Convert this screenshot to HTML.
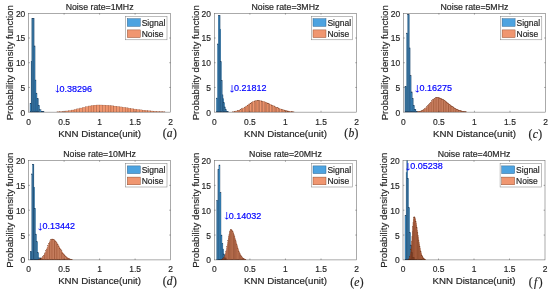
<!DOCTYPE html><html><head><meta charset="utf-8"><title>KNN distance histograms</title>
<style>html,body{margin:0;padding:0;background:#fff}svg{display:block;filter:blur(0.3px)}text{font-family:"Liberation Sans", sans-serif;fill:#262626;stroke:#262626;stroke-width:0.18px}</style></head><body>
<svg width="550" height="292" viewBox="0 0 550 292">
<rect width="550" height="292" fill="#fff"/>
<clipPath id="clip0"><rect x="28.60" y="13.30" width="142.00" height="98.85"/></clipPath>
<g clip-path="url(#clip0)">
<g fill="#007cd2" fill-opacity="0.7" stroke="#143250" stroke-width="0.34">
<rect x="30.00" y="103.25" width="1.10" height="8.90"/>
<rect x="31.10" y="61.24" width="0.75" height="50.91"/>
<rect x="31.85" y="18.24" width="0.75" height="93.91"/>
<rect x="32.60" y="18.24" width="0.75" height="93.91"/>
<rect x="33.35" y="18.24" width="0.75" height="93.91"/>
<rect x="34.10" y="45.92" width="0.97" height="66.23"/>
<rect x="35.07" y="80.02" width="0.93" height="32.13"/>
<rect x="36.00" y="93.12" width="1.00" height="19.03"/>
<rect x="37.00" y="98.81" width="0.70" height="13.34"/>
<rect x="37.70" y="98.81" width="0.70" height="13.34"/>
<rect x="38.40" y="105.23" width="1.30" height="6.92"/>
<rect x="39.70" y="109.68" width="1.30" height="2.47"/>
<rect x="41.00" y="111.41" width="1.00" height="0.74"/>
<rect x="42.00" y="111.41" width="1.00" height="0.74"/>
<rect x="43.00" y="111.41" width="1.00" height="0.74"/>
</g>
<g fill="#e96930" fill-opacity="0.7" stroke="#5a2008" stroke-opacity="0.65" stroke-width="0.28">
<rect x="57.00" y="111.75" width="2.84" height="0.40"/>
<rect x="59.84" y="111.56" width="2.84" height="0.59"/>
<rect x="62.68" y="111.30" width="2.84" height="0.85"/>
<rect x="65.52" y="110.97" width="2.84" height="1.18"/>
<rect x="68.36" y="110.55" width="2.84" height="1.60"/>
<rect x="71.20" y="110.03" width="2.84" height="2.12"/>
<rect x="74.04" y="109.43" width="2.84" height="2.72"/>
<rect x="76.88" y="108.76" width="2.84" height="3.39"/>
<rect x="79.72" y="108.04" width="2.84" height="4.11"/>
<rect x="82.56" y="107.31" width="2.84" height="4.84"/>
<rect x="85.40" y="106.61" width="2.84" height="5.54"/>
<rect x="88.24" y="105.98" width="2.84" height="6.17"/>
<rect x="91.08" y="105.48" width="2.84" height="6.67"/>
<rect x="93.92" y="105.14" width="2.84" height="7.01"/>
<rect x="96.76" y="104.99" width="2.84" height="7.16"/>
<rect x="99.60" y="105.00" width="2.84" height="7.15"/>
<rect x="102.44" y="105.10" width="2.84" height="7.05"/>
<rect x="105.28" y="105.26" width="2.84" height="6.89"/>
<rect x="108.12" y="105.49" width="2.84" height="6.66"/>
<rect x="110.96" y="105.79" width="2.84" height="6.36"/>
<rect x="113.80" y="106.13" width="2.84" height="6.02"/>
<rect x="116.64" y="106.51" width="2.84" height="5.64"/>
<rect x="119.48" y="106.92" width="2.84" height="5.23"/>
<rect x="122.32" y="107.36" width="2.84" height="4.79"/>
<rect x="125.16" y="107.80" width="2.84" height="4.35"/>
<rect x="128.00" y="108.25" width="2.84" height="3.90"/>
<rect x="130.84" y="108.68" width="2.84" height="3.47"/>
<rect x="133.68" y="109.10" width="2.84" height="3.05"/>
<rect x="136.52" y="109.50" width="2.84" height="2.65"/>
<rect x="139.36" y="109.87" width="2.84" height="2.28"/>
<rect x="142.20" y="110.21" width="2.84" height="1.94"/>
<rect x="145.04" y="110.51" width="2.84" height="1.64"/>
<rect x="147.88" y="110.78" width="2.84" height="1.37"/>
<rect x="150.72" y="111.02" width="2.84" height="1.13"/>
<rect x="153.56" y="111.23" width="2.84" height="0.92"/>
<rect x="156.40" y="111.41" width="2.84" height="0.74"/>
<rect x="159.24" y="111.55" width="2.84" height="0.60"/>
<rect x="162.08" y="111.68" width="2.84" height="0.47"/>
</g>
</g>
<g stroke="#262626" stroke-opacity="0.7" stroke-width="0.55" fill="none">
<rect x="28.60" y="13.30" width="142.00" height="98.85"/>
<path d="M64.10 112.15v-1.40M64.10 13.30v1.40M99.60 112.15v-1.40M99.60 13.30v1.40M135.10 112.15v-1.40M135.10 13.30v1.40M28.60 87.44h1.40M170.60 87.44h-1.40M28.60 62.72h1.40M170.60 62.72h-1.40M28.60 38.01h1.40M170.60 38.01h-1.40"/>
</g>
<g font-size="9.1">
<text transform="translate(28.60 124.50) scale(0.93 1)" text-anchor="middle">0</text>
<text transform="translate(64.10 124.50) scale(0.93 1)" text-anchor="middle">0.5</text>
<text transform="translate(99.60 124.50) scale(0.93 1)" text-anchor="middle">1</text>
<text transform="translate(135.10 124.50) scale(0.93 1)" text-anchor="middle">1.5</text>
<text transform="translate(170.60 124.50) scale(0.93 1)" text-anchor="middle">2</text>
<text transform="translate(25.30 115.60) scale(0.93 1)" text-anchor="end">0</text>
<text transform="translate(25.30 90.89) scale(0.93 1)" text-anchor="end">5</text>
<text transform="translate(25.30 66.17) scale(0.93 1)" text-anchor="end">10</text>
<text transform="translate(25.30 41.46) scale(0.93 1)" text-anchor="end">15</text>
<text transform="translate(25.30 16.75) scale(0.93 1)" text-anchor="end">20</text>
</g>
<text x="99.60" y="136.65" font-size="9.7" text-anchor="middle">KNN Distance(unit)</text>
<text transform="translate(12.80 62.73) rotate(-90)" font-size="9.7" text-anchor="middle">Probability density function</text>
<text x="99.60" y="9.60" font-size="8.75" text-anchor="middle">Noise rate=1MHz</text>
<text x="169.90" y="137.40" font-size="11.6" letter-spacing="0.3" text-anchor="middle" style="font-family:'Liberation Serif', serif;fill:#222;stroke:#222">(<tspan font-style="italic">a</tspan><tspan>)</tspan></text>
<text transform="translate(57.40 92.20) scale(1.3 1)" font-size="12.9" text-anchor="middle" style="fill:#0000ff;stroke:none">↓</text>
<text x="59.60" y="91.50" font-size="9" style="fill:#0000ff;stroke:#0000ff">0.38296</text>
<rect x="125.70" y="16.50" width="41.30" height="23.30" fill="#fff" stroke="#262626" stroke-opacity="0.6" stroke-width="0.5"/>
<rect x="127.30" y="18.70" width="13" height="7.7" fill="#4da3e0" stroke="#1d4f78" stroke-width="0.4"/>
<rect x="127.30" y="29.90" width="13" height="7.7" fill="#f09670" stroke="#7a3a1c" stroke-width="0.4"/>
<text x="141.70" y="25.80" font-size="8.5">Signal</text>
<text x="141.70" y="37.00" font-size="8.5">Noise</text>
<clipPath id="clip1"><rect x="214.30" y="13.30" width="142.30" height="98.85"/></clipPath>
<g clip-path="url(#clip1)">
<g fill="#007cd2" fill-opacity="0.7" stroke="#143250" stroke-width="0.34">
<rect x="216.30" y="98.06" width="1.10" height="14.09"/>
<rect x="217.40" y="43.94" width="0.80" height="68.21"/>
<rect x="218.20" y="15.77" width="0.94" height="96.38"/>
<rect x="219.14" y="15.77" width="0.94" height="96.38"/>
<rect x="220.07" y="29.12" width="0.73" height="83.03"/>
<rect x="220.80" y="61.74" width="0.70" height="50.41"/>
<rect x="221.50" y="80.52" width="0.70" height="31.63"/>
<rect x="222.20" y="94.85" width="0.80" height="17.30"/>
<rect x="223.00" y="98.81" width="0.80" height="13.34"/>
<rect x="223.80" y="102.76" width="0.90" height="9.39"/>
<rect x="224.70" y="106.91" width="0.70" height="5.24"/>
<rect x="225.40" y="109.68" width="1.10" height="2.47"/>
<rect x="226.50" y="111.41" width="1.00" height="0.74"/>
<rect x="227.50" y="111.41" width="1.00" height="0.74"/>
</g>
<g fill="#e96930" fill-opacity="0.7" stroke="#5a2008" stroke-opacity="0.65" stroke-width="0.28">
<rect x="232.80" y="111.58" width="1.42" height="0.57"/>
<rect x="234.22" y="111.34" width="1.42" height="0.81"/>
<rect x="235.65" y="111.03" width="1.42" height="1.12"/>
<rect x="237.07" y="110.63" width="1.42" height="1.52"/>
<rect x="238.49" y="110.14" width="1.42" height="2.01"/>
<rect x="239.91" y="109.53" width="1.42" height="2.62"/>
<rect x="241.34" y="108.82" width="1.42" height="3.33"/>
<rect x="242.76" y="108.00" width="1.42" height="4.15"/>
<rect x="244.18" y="107.08" width="1.42" height="5.07"/>
<rect x="245.61" y="106.10" width="1.42" height="6.05"/>
<rect x="247.03" y="105.07" width="1.42" height="7.08"/>
<rect x="248.45" y="104.04" width="1.42" height="8.11"/>
<rect x="249.88" y="103.06" width="1.42" height="9.09"/>
<rect x="251.30" y="102.18" width="1.42" height="9.97"/>
<rect x="252.72" y="101.43" width="1.42" height="10.72"/>
<rect x="254.14" y="100.88" width="1.42" height="11.27"/>
<rect x="255.57" y="100.54" width="1.42" height="11.61"/>
<rect x="256.99" y="100.44" width="1.42" height="11.71"/>
<rect x="258.41" y="100.51" width="1.42" height="11.64"/>
<rect x="259.84" y="100.69" width="1.42" height="11.46"/>
<rect x="261.26" y="100.98" width="1.42" height="11.17"/>
<rect x="262.68" y="101.38" width="1.42" height="10.77"/>
<rect x="264.11" y="101.86" width="1.42" height="10.29"/>
<rect x="265.53" y="102.42" width="1.42" height="9.73"/>
<rect x="266.95" y="103.03" width="1.42" height="9.12"/>
<rect x="268.37" y="103.70" width="1.42" height="8.45"/>
<rect x="269.80" y="104.39" width="1.42" height="7.76"/>
<rect x="271.22" y="105.10" width="1.42" height="7.05"/>
<rect x="272.64" y="105.80" width="1.42" height="6.35"/>
<rect x="274.07" y="106.50" width="1.42" height="5.65"/>
<rect x="275.49" y="107.16" width="1.42" height="4.99"/>
<rect x="276.91" y="107.79" width="1.42" height="4.36"/>
<rect x="278.34" y="108.38" width="1.42" height="3.77"/>
<rect x="279.76" y="108.92" width="1.42" height="3.23"/>
<rect x="281.18" y="109.42" width="1.42" height="2.73"/>
<rect x="282.60" y="109.85" width="1.42" height="2.30"/>
<rect x="284.03" y="110.24" width="1.42" height="1.91"/>
<rect x="285.45" y="110.58" width="1.42" height="1.57"/>
<rect x="286.87" y="110.87" width="1.42" height="1.28"/>
<rect x="288.30" y="111.12" width="1.42" height="1.03"/>
<rect x="289.72" y="111.33" width="1.42" height="0.82"/>
<rect x="291.14" y="111.50" width="1.42" height="0.65"/>
<rect x="292.57" y="111.64" width="1.42" height="0.51"/>
</g>
</g>
<g stroke="#262626" stroke-opacity="0.7" stroke-width="0.55" fill="none">
<rect x="214.30" y="13.30" width="142.30" height="98.85"/>
<path d="M249.88 112.15v-1.40M249.88 13.30v1.40M285.45 112.15v-1.40M285.45 13.30v1.40M321.03 112.15v-1.40M321.03 13.30v1.40M214.30 87.44h1.40M356.60 87.44h-1.40M214.30 62.72h1.40M356.60 62.72h-1.40M214.30 38.01h1.40M356.60 38.01h-1.40"/>
</g>
<g font-size="9.1">
<text transform="translate(214.30 124.50) scale(0.93 1)" text-anchor="middle">0</text>
<text transform="translate(249.88 124.50) scale(0.93 1)" text-anchor="middle">0.5</text>
<text transform="translate(285.45 124.50) scale(0.93 1)" text-anchor="middle">1</text>
<text transform="translate(321.03 124.50) scale(0.93 1)" text-anchor="middle">1.5</text>
<text transform="translate(356.60 124.50) scale(0.93 1)" text-anchor="middle">2</text>
<text transform="translate(211.00 115.60) scale(0.93 1)" text-anchor="end">0</text>
<text transform="translate(211.00 90.89) scale(0.93 1)" text-anchor="end">5</text>
<text transform="translate(211.00 66.17) scale(0.93 1)" text-anchor="end">10</text>
<text transform="translate(211.00 41.46) scale(0.93 1)" text-anchor="end">15</text>
<text transform="translate(211.00 16.75) scale(0.93 1)" text-anchor="end">20</text>
</g>
<text x="285.45" y="136.65" font-size="9.7" text-anchor="middle">KNN Distance(unit)</text>
<text transform="translate(198.50 62.73) rotate(-90)" font-size="9.7" text-anchor="middle">Probability density function</text>
<text x="285.45" y="9.60" font-size="8.75" text-anchor="middle">Noise rate=3MHz</text>
<text x="351.50" y="137.40" font-size="11.6" letter-spacing="0.3" text-anchor="middle" style="font-family:'Liberation Serif', serif;fill:#222;stroke:#222">(<tspan font-style="italic">b</tspan><tspan>)</tspan></text>
<text transform="translate(231.90 92.10) scale(1.3 1)" font-size="12.9" text-anchor="middle" style="fill:#0000ff;stroke:none">↓</text>
<text x="234.10" y="91.40" font-size="9" style="fill:#0000ff;stroke:#0000ff">0.21812</text>
<rect x="311.40" y="16.50" width="41.30" height="23.30" fill="#fff" stroke="#262626" stroke-opacity="0.6" stroke-width="0.5"/>
<rect x="313.00" y="18.70" width="13" height="7.7" fill="#4da3e0" stroke="#1d4f78" stroke-width="0.4"/>
<rect x="313.00" y="29.90" width="13" height="7.7" fill="#f09670" stroke="#7a3a1c" stroke-width="0.4"/>
<text x="327.40" y="25.80" font-size="8.5">Signal</text>
<text x="327.40" y="37.00" font-size="8.5">Noise</text>
<clipPath id="clip2"><rect x="403.40" y="13.30" width="142.10" height="98.85"/></clipPath>
<g clip-path="url(#clip2)">
<g fill="#007cd2" fill-opacity="0.7" stroke="#143250" stroke-width="0.34">
<rect x="404.95" y="86.45" width="0.82" height="25.70"/>
<rect x="405.77" y="86.45" width="0.82" height="25.70"/>
<rect x="406.60" y="33.07" width="1.10" height="79.08"/>
<rect x="407.70" y="14.78" width="0.80" height="97.37"/>
<rect x="408.50" y="14.78" width="0.80" height="97.37"/>
<rect x="409.30" y="47.90" width="0.80" height="64.25"/>
<rect x="410.10" y="75.82" width="1.00" height="36.33"/>
<rect x="411.10" y="91.89" width="1.10" height="20.26"/>
<rect x="412.20" y="98.56" width="1.00" height="13.59"/>
<rect x="413.20" y="105.38" width="1.30" height="6.77"/>
<rect x="414.50" y="109.18" width="0.70" height="2.97"/>
<rect x="415.20" y="109.18" width="0.70" height="2.97"/>
<rect x="415.90" y="111.16" width="0.75" height="0.99"/>
<rect x="416.65" y="111.16" width="0.75" height="0.99"/>
</g>
<g fill="#e96930" fill-opacity="0.7" stroke="#5a2008" stroke-opacity="0.65" stroke-width="0.28">
<rect x="417.61" y="111.70" width="0.71" height="0.45"/>
<rect x="418.32" y="111.57" width="0.71" height="0.58"/>
<rect x="419.03" y="111.41" width="0.71" height="0.74"/>
<rect x="419.74" y="111.22" width="0.71" height="0.93"/>
<rect x="420.45" y="110.99" width="0.71" height="1.16"/>
<rect x="421.16" y="110.71" width="0.71" height="1.44"/>
<rect x="421.87" y="110.38" width="0.71" height="1.77"/>
<rect x="422.58" y="110.00" width="0.71" height="2.15"/>
<rect x="423.29" y="109.55" width="0.71" height="2.60"/>
<rect x="424.00" y="109.05" width="0.71" height="3.10"/>
<rect x="424.71" y="108.49" width="0.71" height="3.66"/>
<rect x="425.43" y="107.86" width="0.71" height="4.29"/>
<rect x="426.14" y="107.18" width="0.71" height="4.97"/>
<rect x="426.85" y="106.44" width="0.71" height="5.71"/>
<rect x="427.56" y="105.65" width="0.71" height="6.50"/>
<rect x="428.27" y="104.83" width="0.71" height="7.32"/>
<rect x="428.98" y="103.97" width="0.71" height="8.18"/>
<rect x="429.69" y="103.11" width="0.71" height="9.04"/>
<rect x="430.40" y="102.24" width="0.71" height="9.91"/>
<rect x="431.11" y="101.40" width="0.71" height="10.75"/>
<rect x="431.82" y="100.60" width="0.71" height="11.55"/>
<rect x="432.53" y="99.85" width="0.71" height="12.30"/>
<rect x="433.24" y="99.18" width="0.71" height="12.97"/>
<rect x="433.95" y="98.60" width="0.71" height="13.55"/>
<rect x="434.66" y="98.13" width="0.71" height="14.02"/>
<rect x="435.37" y="97.78" width="0.71" height="14.37"/>
<rect x="436.08" y="97.55" width="0.71" height="14.60"/>
<rect x="436.79" y="97.47" width="0.71" height="14.68"/>
<rect x="437.50" y="97.50" width="0.71" height="14.65"/>
<rect x="438.21" y="97.58" width="0.71" height="14.57"/>
<rect x="438.92" y="97.73" width="0.71" height="14.42"/>
<rect x="439.64" y="97.93" width="0.71" height="14.22"/>
<rect x="440.35" y="98.20" width="0.71" height="13.95"/>
<rect x="441.06" y="98.51" width="0.71" height="13.64"/>
<rect x="441.77" y="98.87" width="0.71" height="13.28"/>
<rect x="442.48" y="99.28" width="0.71" height="12.87"/>
<rect x="443.19" y="99.73" width="0.71" height="12.42"/>
<rect x="443.90" y="100.21" width="0.71" height="11.94"/>
<rect x="444.61" y="100.72" width="0.71" height="11.43"/>
<rect x="445.32" y="101.26" width="0.71" height="10.89"/>
<rect x="446.03" y="101.81" width="0.71" height="10.34"/>
<rect x="446.74" y="102.38" width="0.71" height="9.77"/>
<rect x="447.45" y="102.96" width="0.71" height="9.19"/>
<rect x="448.16" y="103.54" width="0.71" height="8.61"/>
<rect x="448.87" y="104.11" width="0.71" height="8.04"/>
<rect x="449.58" y="104.68" width="0.71" height="7.47"/>
<rect x="450.29" y="105.24" width="0.71" height="6.91"/>
<rect x="451.00" y="105.78" width="0.71" height="6.37"/>
<rect x="451.71" y="106.31" width="0.71" height="5.84"/>
<rect x="452.42" y="106.81" width="0.71" height="5.34"/>
<rect x="453.13" y="107.29" width="0.71" height="4.86"/>
<rect x="453.85" y="107.75" width="0.71" height="4.40"/>
<rect x="454.56" y="108.18" width="0.71" height="3.97"/>
<rect x="455.27" y="108.58" width="0.71" height="3.57"/>
<rect x="455.98" y="108.96" width="0.71" height="3.19"/>
<rect x="456.69" y="109.31" width="0.71" height="2.84"/>
<rect x="457.40" y="109.63" width="0.71" height="2.52"/>
<rect x="458.11" y="109.92" width="0.71" height="2.23"/>
<rect x="458.82" y="110.19" width="0.71" height="1.96"/>
<rect x="459.53" y="110.43" width="0.71" height="1.72"/>
<rect x="460.24" y="110.65" width="0.71" height="1.50"/>
<rect x="460.95" y="110.85" width="0.71" height="1.30"/>
<rect x="461.66" y="111.02" width="0.71" height="1.13"/>
<rect x="462.37" y="111.18" width="0.71" height="0.97"/>
<rect x="463.08" y="111.32" width="0.71" height="0.83"/>
<rect x="463.79" y="111.44" width="0.71" height="0.71"/>
<rect x="464.50" y="111.55" width="0.71" height="0.60"/>
<rect x="465.21" y="111.64" width="0.71" height="0.51"/>
<rect x="465.92" y="111.72" width="0.71" height="0.43"/>
</g>
</g>
<g stroke="#262626" stroke-opacity="0.7" stroke-width="0.55" fill="none">
<rect x="403.40" y="13.30" width="142.10" height="98.85"/>
<path d="M438.92 112.15v-1.40M438.92 13.30v1.40M474.45 112.15v-1.40M474.45 13.30v1.40M509.98 112.15v-1.40M509.98 13.30v1.40M403.40 87.44h1.40M545.50 87.44h-1.40M403.40 62.72h1.40M545.50 62.72h-1.40M403.40 38.01h1.40M545.50 38.01h-1.40"/>
</g>
<g font-size="9.1">
<text transform="translate(403.40 124.50) scale(0.93 1)" text-anchor="middle">0</text>
<text transform="translate(438.92 124.50) scale(0.93 1)" text-anchor="middle">0.5</text>
<text transform="translate(474.45 124.50) scale(0.93 1)" text-anchor="middle">1</text>
<text transform="translate(509.98 124.50) scale(0.93 1)" text-anchor="middle">1.5</text>
<text transform="translate(545.50 124.50) scale(0.93 1)" text-anchor="middle">2</text>
<text transform="translate(400.10 115.60) scale(0.93 1)" text-anchor="end">0</text>
<text transform="translate(400.10 90.89) scale(0.93 1)" text-anchor="end">5</text>
<text transform="translate(400.10 66.17) scale(0.93 1)" text-anchor="end">10</text>
<text transform="translate(400.10 41.46) scale(0.93 1)" text-anchor="end">15</text>
<text transform="translate(400.10 16.75) scale(0.93 1)" text-anchor="end">20</text>
</g>
<text x="474.45" y="136.65" font-size="9.7" text-anchor="middle">KNN Distance(unit)</text>
<text transform="translate(387.60 62.73) rotate(-90)" font-size="9.7" text-anchor="middle">Probability density function</text>
<text x="474.45" y="9.60" font-size="8.75" text-anchor="middle">Noise rate=5MHz</text>
<text x="535.40" y="137.60" font-size="11.6" letter-spacing="0.3" text-anchor="middle" style="font-family:'Liberation Serif', serif;fill:#222;stroke:#222">(<tspan font-style="italic">c</tspan><tspan>)</tspan></text>
<text transform="translate(417.30 92.10) scale(1.3 1)" font-size="12.9" text-anchor="middle" style="fill:#0000ff;stroke:none">↓</text>
<text x="419.50" y="91.40" font-size="9" style="fill:#0000ff;stroke:#0000ff">0.16275</text>
<rect x="500.50" y="16.50" width="41.30" height="23.30" fill="#fff" stroke="#262626" stroke-opacity="0.6" stroke-width="0.5"/>
<rect x="502.10" y="18.70" width="13" height="7.7" fill="#4da3e0" stroke="#1d4f78" stroke-width="0.4"/>
<rect x="502.10" y="29.90" width="13" height="7.7" fill="#f09670" stroke="#7a3a1c" stroke-width="0.4"/>
<text x="516.50" y="25.80" font-size="8.5">Signal</text>
<text x="516.50" y="37.00" font-size="8.5">Noise</text>
<clipPath id="clip3"><rect x="28.60" y="160.50" width="142.00" height="99.40"/></clipPath>
<g clip-path="url(#clip3)">
<g fill="#007cd2" fill-opacity="0.7" stroke="#143250" stroke-width="0.34">
<rect x="30.20" y="251.45" width="0.80" height="8.45"/>
<rect x="31.00" y="251.45" width="0.80" height="8.45"/>
<rect x="31.80" y="173.92" width="0.70" height="85.98"/>
<rect x="32.50" y="164.23" width="0.70" height="95.67"/>
<rect x="33.20" y="164.23" width="0.70" height="95.67"/>
<rect x="33.90" y="187.09" width="0.80" height="72.81"/>
<rect x="34.70" y="208.21" width="0.90" height="51.69"/>
<rect x="35.60" y="234.06" width="1.00" height="25.84"/>
<rect x="36.60" y="241.76" width="1.10" height="18.14"/>
<rect x="37.70" y="252.69" width="1.10" height="7.21"/>
<rect x="38.80" y="257.91" width="1.10" height="1.99"/>
<rect x="39.90" y="257.91" width="1.10" height="1.99"/>
</g>
<g fill="#e96930" fill-opacity="0.7" stroke="#5a2008" stroke-opacity="0.65" stroke-width="0.28">
<rect x="38.54" y="259.41" width="0.71" height="0.49"/>
<rect x="39.25" y="259.18" width="0.71" height="0.72"/>
<rect x="39.96" y="258.86" width="0.71" height="1.04"/>
<rect x="40.67" y="258.43" width="0.71" height="1.47"/>
<rect x="41.38" y="257.87" width="0.71" height="2.03"/>
<rect x="42.09" y="257.14" width="0.71" height="2.76"/>
<rect x="42.80" y="256.24" width="0.71" height="3.66"/>
<rect x="43.51" y="255.14" width="0.71" height="4.76"/>
<rect x="44.22" y="253.85" width="0.71" height="6.05"/>
<rect x="44.93" y="252.36" width="0.71" height="7.54"/>
<rect x="45.64" y="250.71" width="0.71" height="9.19"/>
<rect x="46.35" y="248.93" width="0.71" height="10.97"/>
<rect x="47.06" y="247.09" width="0.71" height="12.81"/>
<rect x="47.77" y="245.24" width="0.71" height="14.66"/>
<rect x="48.48" y="243.49" width="0.71" height="16.41"/>
<rect x="49.19" y="241.92" width="0.71" height="17.98"/>
<rect x="49.90" y="240.61" width="0.71" height="19.29"/>
<rect x="50.61" y="239.64" width="0.71" height="20.26"/>
<rect x="51.32" y="239.07" width="0.71" height="20.83"/>
<rect x="52.03" y="238.93" width="0.71" height="20.97"/>
<rect x="52.74" y="239.07" width="0.71" height="20.83"/>
<rect x="53.45" y="239.41" width="0.71" height="20.49"/>
<rect x="54.16" y="239.94" width="0.71" height="19.96"/>
<rect x="54.87" y="240.63" width="0.71" height="19.27"/>
<rect x="55.58" y="241.49" width="0.71" height="18.41"/>
<rect x="56.29" y="242.47" width="0.71" height="17.43"/>
<rect x="57.00" y="243.56" width="0.71" height="16.34"/>
<rect x="57.71" y="244.73" width="0.71" height="15.17"/>
<rect x="58.42" y="245.95" width="0.71" height="13.95"/>
<rect x="59.13" y="247.19" width="0.71" height="12.71"/>
<rect x="59.84" y="248.44" width="0.71" height="11.46"/>
<rect x="60.55" y="249.66" width="0.71" height="10.24"/>
<rect x="61.26" y="250.84" width="0.71" height="9.06"/>
<rect x="61.97" y="251.96" width="0.71" height="7.94"/>
<rect x="62.68" y="253.01" width="0.71" height="6.89"/>
<rect x="63.39" y="253.97" width="0.71" height="5.93"/>
<rect x="64.10" y="254.85" width="0.71" height="5.05"/>
<rect x="64.81" y="255.64" width="0.71" height="4.26"/>
<rect x="65.52" y="256.35" width="0.71" height="3.55"/>
<rect x="66.23" y="256.96" width="0.71" height="2.94"/>
<rect x="66.94" y="257.49" width="0.71" height="2.41"/>
<rect x="67.65" y="257.95" width="0.71" height="1.95"/>
<rect x="68.36" y="258.33" width="0.71" height="1.57"/>
<rect x="69.07" y="258.65" width="0.71" height="1.25"/>
<rect x="69.78" y="258.91" width="0.71" height="0.99"/>
<rect x="70.49" y="259.13" width="0.71" height="0.77"/>
<rect x="71.20" y="259.31" width="0.71" height="0.59"/>
<rect x="71.91" y="259.44" width="0.71" height="0.46"/>
</g>
</g>
<g stroke="#262626" stroke-opacity="0.7" stroke-width="0.55" fill="none">
<rect x="28.60" y="160.50" width="142.00" height="99.40"/>
<path d="M64.10 259.90v-1.40M64.10 160.50v1.40M99.60 259.90v-1.40M99.60 160.50v1.40M135.10 259.90v-1.40M135.10 160.50v1.40M28.60 235.05h1.40M170.60 235.05h-1.40M28.60 210.20h1.40M170.60 210.20h-1.40M28.60 185.35h1.40M170.60 185.35h-1.40"/>
</g>
<g font-size="9.1">
<text transform="translate(28.60 272.25) scale(0.93 1)" text-anchor="middle">0</text>
<text transform="translate(64.10 272.25) scale(0.93 1)" text-anchor="middle">0.5</text>
<text transform="translate(99.60 272.25) scale(0.93 1)" text-anchor="middle">1</text>
<text transform="translate(135.10 272.25) scale(0.93 1)" text-anchor="middle">1.5</text>
<text transform="translate(170.60 272.25) scale(0.93 1)" text-anchor="middle">2</text>
<text transform="translate(25.30 263.35) scale(0.93 1)" text-anchor="end">0</text>
<text transform="translate(25.30 238.50) scale(0.93 1)" text-anchor="end">5</text>
<text transform="translate(25.30 213.65) scale(0.93 1)" text-anchor="end">10</text>
<text transform="translate(25.30 188.80) scale(0.93 1)" text-anchor="end">15</text>
<text transform="translate(25.30 163.95) scale(0.93 1)" text-anchor="end">20</text>
</g>
<text x="99.60" y="284.40" font-size="9.7" text-anchor="middle">KNN Distance(unit)</text>
<text transform="translate(12.80 210.20) rotate(-90)" font-size="9.7" text-anchor="middle">Probability density function</text>
<text x="99.60" y="156.80" font-size="8.75" text-anchor="middle">Noise rate=10MHz</text>
<text x="169.90" y="285.40" font-size="11.6" letter-spacing="0.3" text-anchor="middle" style="font-family:'Liberation Serif', serif;fill:#222;stroke:#222">(<tspan font-style="italic">d</tspan><tspan>)</tspan></text>
<text transform="translate(40.20 229.60) scale(1.3 1)" font-size="12.9" text-anchor="middle" style="fill:#0000ff;stroke:none">↓</text>
<text x="42.40" y="228.90" font-size="9" style="fill:#0000ff;stroke:#0000ff">0.13442</text>
<rect x="125.70" y="163.70" width="41.30" height="23.30" fill="#fff" stroke="#262626" stroke-opacity="0.6" stroke-width="0.5"/>
<rect x="127.30" y="165.90" width="13" height="7.7" fill="#4da3e0" stroke="#1d4f78" stroke-width="0.4"/>
<rect x="127.30" y="177.10" width="13" height="7.7" fill="#f09670" stroke="#7a3a1c" stroke-width="0.4"/>
<text x="141.70" y="173.00" font-size="8.5">Signal</text>
<text x="141.70" y="184.20" font-size="8.5">Noise</text>
<clipPath id="clip4"><rect x="214.30" y="160.50" width="142.30" height="99.40"/></clipPath>
<g clip-path="url(#clip4)">
<g fill="#007cd2" fill-opacity="0.7" stroke="#143250" stroke-width="0.34">
<rect x="216.70" y="200.51" width="1.20" height="59.39"/>
<rect x="217.90" y="169.69" width="1.00" height="90.21"/>
<rect x="218.90" y="164.97" width="1.10" height="94.93"/>
<rect x="220.00" y="192.81" width="1.00" height="67.09"/>
<rect x="221.00" y="235.05" width="1.00" height="24.85"/>
<rect x="222.00" y="243.50" width="0.90" height="16.40"/>
<rect x="222.90" y="248.97" width="0.90" height="10.93"/>
<rect x="223.80" y="253.94" width="1.00" height="5.96"/>
<rect x="224.80" y="257.91" width="0.75" height="1.99"/>
<rect x="225.55" y="257.91" width="0.75" height="1.99"/>
</g>
<g fill="#e96930" fill-opacity="0.7" stroke="#5a2008" stroke-opacity="0.60" stroke-width="0.28">
<rect x="221.77" y="259.43" width="0.36" height="0.47"/>
<rect x="222.13" y="259.25" width="0.36" height="0.65"/>
<rect x="222.48" y="259.01" width="0.36" height="0.89"/>
<rect x="222.84" y="258.70" width="0.36" height="1.20"/>
<rect x="223.19" y="258.31" width="0.36" height="1.59"/>
<rect x="223.55" y="257.81" width="0.36" height="2.09"/>
<rect x="223.91" y="257.18" width="0.36" height="2.72"/>
<rect x="224.26" y="256.42" width="0.36" height="3.48"/>
<rect x="224.62" y="255.51" width="0.36" height="4.39"/>
<rect x="224.97" y="254.43" width="0.36" height="5.47"/>
<rect x="225.33" y="253.17" width="0.36" height="6.73"/>
<rect x="225.68" y="251.73" width="0.36" height="8.17"/>
<rect x="226.04" y="250.11" width="0.36" height="9.79"/>
<rect x="226.40" y="248.33" width="0.36" height="11.57"/>
<rect x="226.75" y="246.41" width="0.36" height="13.49"/>
<rect x="227.11" y="244.37" width="0.36" height="15.53"/>
<rect x="227.46" y="242.26" width="0.36" height="17.64"/>
<rect x="227.82" y="240.12" width="0.36" height="19.78"/>
<rect x="228.17" y="238.03" width="0.36" height="21.87"/>
<rect x="228.53" y="236.02" width="0.36" height="23.88"/>
<rect x="228.89" y="234.18" width="0.36" height="25.72"/>
<rect x="229.24" y="232.56" width="0.36" height="27.34"/>
<rect x="229.60" y="231.22" width="0.36" height="28.68"/>
<rect x="229.95" y="230.22" width="0.36" height="29.68"/>
<rect x="230.31" y="229.58" width="0.36" height="30.32"/>
<rect x="230.66" y="229.34" width="0.36" height="30.56"/>
<rect x="231.02" y="229.39" width="0.36" height="30.51"/>
<rect x="231.38" y="229.60" width="0.36" height="30.30"/>
<rect x="231.73" y="229.94" width="0.36" height="29.96"/>
<rect x="232.09" y="230.42" width="0.36" height="29.48"/>
<rect x="232.44" y="231.03" width="0.36" height="28.87"/>
<rect x="232.80" y="231.76" width="0.36" height="28.14"/>
<rect x="233.15" y="232.60" width="0.36" height="27.30"/>
<rect x="233.51" y="233.54" width="0.36" height="26.36"/>
<rect x="233.87" y="234.57" width="0.36" height="25.33"/>
<rect x="234.22" y="235.67" width="0.36" height="24.23"/>
<rect x="234.58" y="236.84" width="0.36" height="23.06"/>
<rect x="234.93" y="238.05" width="0.36" height="21.85"/>
<rect x="235.29" y="239.30" width="0.36" height="20.60"/>
<rect x="235.65" y="240.57" width="0.36" height="19.33"/>
<rect x="236.00" y="241.85" width="0.36" height="18.05"/>
<rect x="236.36" y="243.12" width="0.36" height="16.78"/>
<rect x="236.71" y="244.37" width="0.36" height="15.53"/>
<rect x="237.07" y="245.60" width="0.36" height="14.30"/>
<rect x="237.42" y="246.80" width="0.36" height="13.10"/>
<rect x="237.78" y="247.95" width="0.36" height="11.95"/>
<rect x="238.14" y="249.05" width="0.36" height="10.85"/>
<rect x="238.49" y="250.10" width="0.36" height="9.80"/>
<rect x="238.85" y="251.09" width="0.36" height="8.81"/>
<rect x="239.20" y="252.01" width="0.36" height="7.89"/>
<rect x="239.56" y="252.88" width="0.36" height="7.02"/>
<rect x="239.91" y="253.67" width="0.36" height="6.23"/>
<rect x="240.27" y="254.41" width="0.36" height="5.49"/>
<rect x="240.63" y="255.07" width="0.36" height="4.83"/>
<rect x="240.98" y="255.68" width="0.36" height="4.22"/>
<rect x="241.34" y="256.23" width="0.36" height="3.67"/>
<rect x="241.69" y="256.72" width="0.36" height="3.18"/>
<rect x="242.05" y="257.16" width="0.36" height="2.74"/>
<rect x="242.40" y="257.55" width="0.36" height="2.35"/>
<rect x="242.76" y="257.90" width="0.36" height="2.00"/>
<rect x="243.12" y="258.20" width="0.36" height="1.70"/>
<rect x="243.47" y="258.46" width="0.36" height="1.44"/>
<rect x="243.83" y="258.69" width="0.36" height="1.21"/>
<rect x="244.18" y="258.89" width="0.36" height="1.01"/>
<rect x="244.54" y="259.06" width="0.36" height="0.84"/>
<rect x="244.89" y="259.20" width="0.36" height="0.70"/>
<rect x="245.25" y="259.32" width="0.36" height="0.58"/>
<rect x="245.61" y="259.42" width="0.36" height="0.48"/>
</g>
</g>
<g stroke="#262626" stroke-opacity="0.7" stroke-width="0.55" fill="none">
<rect x="214.30" y="160.50" width="142.30" height="99.40"/>
<path d="M249.88 259.90v-1.40M249.88 160.50v1.40M285.45 259.90v-1.40M285.45 160.50v1.40M321.03 259.90v-1.40M321.03 160.50v1.40M214.30 235.05h1.40M356.60 235.05h-1.40M214.30 210.20h1.40M356.60 210.20h-1.40M214.30 185.35h1.40M356.60 185.35h-1.40"/>
</g>
<g font-size="9.1">
<text transform="translate(214.30 272.25) scale(0.93 1)" text-anchor="middle">0</text>
<text transform="translate(249.88 272.25) scale(0.93 1)" text-anchor="middle">0.5</text>
<text transform="translate(285.45 272.25) scale(0.93 1)" text-anchor="middle">1</text>
<text transform="translate(321.03 272.25) scale(0.93 1)" text-anchor="middle">1.5</text>
<text transform="translate(356.60 272.25) scale(0.93 1)" text-anchor="middle">2</text>
<text transform="translate(211.00 263.35) scale(0.93 1)" text-anchor="end">0</text>
<text transform="translate(211.00 238.50) scale(0.93 1)" text-anchor="end">5</text>
<text transform="translate(211.00 213.65) scale(0.93 1)" text-anchor="end">10</text>
<text transform="translate(211.00 188.80) scale(0.93 1)" text-anchor="end">15</text>
<text transform="translate(211.00 163.95) scale(0.93 1)" text-anchor="end">20</text>
</g>
<text x="285.45" y="284.40" font-size="9.7" text-anchor="middle">KNN Distance(unit)</text>
<text transform="translate(198.50 210.20) rotate(-90)" font-size="9.7" text-anchor="middle">Probability density function</text>
<text x="285.45" y="156.80" font-size="8.75" text-anchor="middle">Noise rate=20MHz</text>
<text x="357.10" y="285.60" font-size="11.6" letter-spacing="0.3" text-anchor="middle" style="font-family:'Liberation Serif', serif;fill:#222;stroke:#222">(<tspan font-style="italic">e</tspan><tspan>)</tspan></text>
<text transform="translate(226.60 219.40) scale(1.3 1)" font-size="12.9" text-anchor="middle" style="fill:#0000ff;stroke:none">↓</text>
<text x="228.80" y="218.70" font-size="9" style="fill:#0000ff;stroke:#0000ff">0.14032</text>
<rect x="311.40" y="163.70" width="41.30" height="23.30" fill="#fff" stroke="#262626" stroke-opacity="0.6" stroke-width="0.5"/>
<rect x="313.00" y="165.90" width="13" height="7.7" fill="#4da3e0" stroke="#1d4f78" stroke-width="0.4"/>
<rect x="313.00" y="177.10" width="13" height="7.7" fill="#f09670" stroke="#7a3a1c" stroke-width="0.4"/>
<text x="327.40" y="173.00" font-size="8.5">Signal</text>
<text x="327.40" y="184.20" font-size="8.5">Noise</text>
<clipPath id="clip5"><rect x="403.00" y="160.50" width="142.00" height="99.40"/></clipPath>
<g clip-path="url(#clip5)">
<g fill="#007cd2" fill-opacity="0.7" stroke="#143250" stroke-width="0.34">
<rect x="405.00" y="215.67" width="1.10" height="44.23"/>
<rect x="406.10" y="172.43" width="0.70" height="87.47"/>
<rect x="406.80" y="150.56" width="1.00" height="109.34"/>
<rect x="407.80" y="178.39" width="0.80" height="81.51"/>
<rect x="408.60" y="207.71" width="1.10" height="52.19"/>
<rect x="409.70" y="232.56" width="1.00" height="27.33"/>
<rect x="410.70" y="244.99" width="1.00" height="14.91"/>
<rect x="411.70" y="252.44" width="1.10" height="7.45"/>
<rect x="412.80" y="257.41" width="0.85" height="2.49"/>
<rect x="413.65" y="257.41" width="0.85" height="2.49"/>
</g>
<g fill="#e96930" fill-opacity="0.7" stroke="#5a2008" stroke-opacity="0.80" stroke-width="0.28">
<rect x="408.32" y="259.37" width="0.36" height="0.53"/>
<rect x="408.68" y="258.99" width="0.36" height="0.91"/>
<rect x="409.04" y="258.40" width="0.35" height="1.50"/>
<rect x="409.39" y="257.51" width="0.36" height="2.39"/>
<rect x="409.75" y="256.22" width="0.36" height="3.68"/>
<rect x="410.10" y="254.43" width="0.35" height="5.47"/>
<rect x="410.45" y="252.05" width="0.36" height="7.85"/>
<rect x="410.81" y="249.01" width="0.36" height="10.89"/>
<rect x="411.17" y="245.31" width="0.35" height="14.59"/>
<rect x="411.52" y="241.02" width="0.36" height="18.88"/>
<rect x="411.88" y="236.31" width="0.36" height="23.59"/>
<rect x="412.23" y="231.43" width="0.35" height="28.47"/>
<rect x="412.58" y="226.72" width="0.36" height="33.18"/>
<rect x="412.94" y="222.55" width="0.36" height="37.35"/>
<rect x="413.30" y="219.29" width="0.35" height="40.61"/>
<rect x="413.65" y="217.27" width="0.36" height="42.63"/>
<rect x="414.00" y="216.66" width="0.36" height="43.24"/>
<rect x="414.36" y="216.90" width="0.35" height="43.00"/>
<rect x="414.71" y="217.51" width="0.36" height="42.39"/>
<rect x="415.07" y="218.50" width="0.36" height="41.40"/>
<rect x="415.43" y="219.82" width="0.35" height="40.08"/>
<rect x="415.78" y="221.45" width="0.36" height="38.45"/>
<rect x="416.13" y="223.35" width="0.36" height="36.55"/>
<rect x="416.49" y="225.47" width="0.36" height="34.43"/>
<rect x="416.85" y="227.75" width="0.35" height="32.15"/>
<rect x="417.20" y="230.16" width="0.36" height="29.74"/>
<rect x="417.56" y="232.63" width="0.36" height="27.27"/>
<rect x="417.91" y="235.12" width="0.35" height="24.78"/>
<rect x="418.26" y="237.58" width="0.36" height="22.32"/>
<rect x="418.62" y="239.99" width="0.36" height="19.91"/>
<rect x="418.98" y="242.29" width="0.35" height="17.61"/>
<rect x="419.33" y="244.47" width="0.36" height="15.43"/>
<rect x="419.69" y="246.49" width="0.36" height="13.41"/>
<rect x="420.04" y="248.36" width="0.35" height="11.54"/>
<rect x="420.39" y="250.06" width="0.36" height="9.84"/>
<rect x="420.75" y="251.58" width="0.36" height="8.32"/>
<rect x="421.11" y="252.93" width="0.35" height="6.97"/>
<rect x="421.46" y="254.11" width="0.36" height="5.79"/>
<rect x="421.81" y="255.14" width="0.36" height="4.76"/>
<rect x="422.17" y="256.02" width="0.35" height="3.88"/>
<rect x="422.52" y="256.76" width="0.36" height="3.14"/>
<rect x="422.88" y="257.39" width="0.36" height="2.51"/>
<rect x="423.24" y="257.91" width="0.36" height="1.99"/>
<rect x="423.59" y="258.33" width="0.36" height="1.57"/>
<rect x="423.94" y="258.68" width="0.36" height="1.22"/>
<rect x="424.30" y="258.96" width="0.35" height="0.94"/>
<rect x="424.65" y="259.18" width="0.36" height="0.72"/>
<rect x="425.01" y="259.35" width="0.36" height="0.55"/>
<rect x="425.37" y="259.49" width="0.36" height="0.41"/>
</g>
</g>
<g stroke="#262626" stroke-opacity="0.7" stroke-width="0.55" fill="none">
<rect x="403.00" y="160.50" width="142.00" height="99.40"/>
<path d="M438.50 259.90v-1.40M438.50 160.50v1.40M474.00 259.90v-1.40M474.00 160.50v1.40M509.50 259.90v-1.40M509.50 160.50v1.40M403.00 235.05h1.40M545.00 235.05h-1.40M403.00 210.20h1.40M545.00 210.20h-1.40M403.00 185.35h1.40M545.00 185.35h-1.40"/>
</g>
<g font-size="9.1">
<text transform="translate(403.00 272.25) scale(0.93 1)" text-anchor="middle">0</text>
<text transform="translate(438.50 272.25) scale(0.93 1)" text-anchor="middle">0.5</text>
<text transform="translate(474.00 272.25) scale(0.93 1)" text-anchor="middle">1</text>
<text transform="translate(509.50 272.25) scale(0.93 1)" text-anchor="middle">1.5</text>
<text transform="translate(545.00 272.25) scale(0.93 1)" text-anchor="middle">2</text>
<text transform="translate(399.70 263.35) scale(0.93 1)" text-anchor="end">0</text>
<text transform="translate(399.70 238.50) scale(0.93 1)" text-anchor="end">5</text>
<text transform="translate(399.70 213.65) scale(0.93 1)" text-anchor="end">10</text>
<text transform="translate(399.70 188.80) scale(0.93 1)" text-anchor="end">15</text>
<text transform="translate(399.70 163.95) scale(0.93 1)" text-anchor="end">20</text>
</g>
<text x="474.00" y="284.40" font-size="9.7" text-anchor="middle">KNN Distance(unit)</text>
<text transform="translate(387.20 210.20) rotate(-90)" font-size="9.7" text-anchor="middle">Probability density function</text>
<text x="474.00" y="156.80" font-size="8.75" text-anchor="middle">Noise rate=40MHz</text>
<text x="535.80" y="285.80" font-size="11.6" letter-spacing="0.3" text-anchor="middle" style="font-family:'Liberation Serif', serif;fill:#222;stroke:#222">(<tspan font-style="italic" dx="1.2">f</tspan><tspan dx="1.2">)</tspan></text>
<text transform="translate(408.00 169.50) scale(1.3 1)" font-size="12.9" text-anchor="middle" style="fill:#0000ff;stroke:none">↓</text>
<text x="410.20" y="168.80" font-size="9" style="fill:#0000ff;stroke:#0000ff">0.05238</text>
<rect x="500.10" y="163.70" width="41.30" height="23.30" fill="#fff" stroke="#262626" stroke-opacity="0.6" stroke-width="0.5"/>
<rect x="501.70" y="165.90" width="13" height="7.7" fill="#4da3e0" stroke="#1d4f78" stroke-width="0.4"/>
<rect x="501.70" y="177.10" width="13" height="7.7" fill="#f09670" stroke="#7a3a1c" stroke-width="0.4"/>
<text x="516.10" y="173.00" font-size="8.5">Signal</text>
<text x="516.10" y="184.20" font-size="8.5">Noise</text>
</svg></body></html>
